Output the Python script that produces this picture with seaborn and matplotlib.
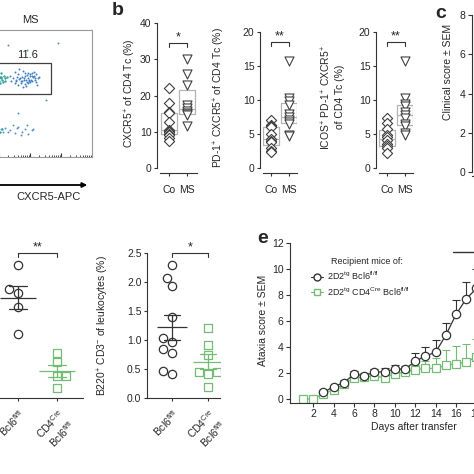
import numpy as np
import pandas as pd
import seaborn as sns
import matplotlib.pyplot as plt
from matplotlib.patches import Rectangle
from matplotlib.lines import Line2D

sns.set_style("ticks")
plt.rcParams['font.family'] = ['Liberation Sans', 'DejaVu Sans']
plt.rcParams['mathtext.fontset'] = 'custom'
plt.rcParams['mathtext.rm'] = 'Liberation Sans'
plt.rcParams['mathtext.it'] = 'Liberation Sans:italic'
plt.rcParams['mathtext.bf'] = 'Liberation Sans:bold'

# ---- datos ----
# panel a (eventos de citometria, x en log10)
flow_hi_x = [2.45, 2.55, 2.62, 2.70, 2.75, 2.80, 2.85, 2.90, 2.95, 3.00, 3.05, 3.10, 3.15, 3.20,
             3.25, 2.50, 2.60, 2.68, 2.78, 2.88, 2.98, 3.08, 3.18, 2.58, 2.72, 2.83, 2.93, 3.03,
             3.13, 2.40, 2.65, 2.92, 3.22, 3.30, 2.35, 2.76, 2.86, 3.00, 2.52, 3.12,
             2.66, 2.81, 2.96, 3.06, 2.74, 2.89, 3.17, 2.56, 2.99, 2.84]
flow_hi_y = [0.62, 0.60, 0.65, 0.58, 0.63, 0.61, 0.66, 0.59, 0.62, 0.64, 0.60, 0.63, 0.61, 0.65,
             0.62, 0.67, 0.57, 0.62, 0.68, 0.56, 0.60, 0.66, 0.59, 0.63, 0.60, 0.64, 0.58, 0.61,
             0.64, 0.60, 0.69, 0.66, 0.57, 0.63, 0.64, 0.55, 0.61, 0.59, 0.58, 0.67,
             0.615, 0.625, 0.605, 0.635, 0.595, 0.645, 0.625, 0.605, 0.655, 0.575]
flow_teal_x = [1.95, 2.00, 2.05, 2.10, 2.15, 2.02, 1.98, 2.08, 2.12, 2.20, 1.92, 2.04, 2.18, 2.25, 2.06,
               1.96, 2.03, 2.09]
flow_teal_y = [0.62, 0.60, 0.63, 0.61, 0.64, 0.58, 0.65, 0.66, 0.59, 0.62, 0.61, 0.63, 0.60, 0.63, 0.62,
               0.21, 0.20, 0.22]
flow_lo_x = [1.95, 2.00, 2.05, 2.12, 2.20, 2.35, 2.50, 2.62, 2.75, 2.85, 2.95, 3.05, 2.45, 2.70,
             2.30, 2.90, 3.10, 2.58, 2.30, 2.90, 3.50, 1.95, 2.60, 3.90]
flow_lo_y = [0.21, 0.19, 0.22, 0.20, 0.23, 0.21, 0.19, 0.24, 0.20, 0.22, 0.18, 0.21, 0.25, 0.17,
             0.20, 0.25, 0.22, 0.23, 0.88, 0.84, 0.45, 0.40, 0.35, 0.90]
gate_pct = "11.6"

# panel b
grupos_b = ["Co", "MS"]
b1_co = [22.2, 17.8, 15.5, 15.2, 12.8, 10.5, 10.2, 9.8, 9.5, 9.2, 8.2, 7.5]
b1_ms = [30.0, 26.0, 23.0, 17.5, 16.5, 15.8, 15.2, 14.8, 14.5, 11.5]
b2_co = [7.0, 6.3, 6.2, 6.0, 5.0, 4.3, 4.0, 3.8, 3.0, 2.5, 2.3]
b2_ms = [15.8, 10.3, 9.8, 9.3, 8.0, 7.5, 7.0, 6.7, 6.5, 4.9, 4.7]
b3_co = [7.3, 6.6, 5.8, 4.9, 4.5, 4.1, 3.6, 3.2, 2.9, 2.2]
b3_ms = [15.8, 10.3, 9.4, 9.1, 8.2, 7.8, 7.3, 6.4, 6.2, 5.1, 4.8]

# panel d
grupos_d = ["Bcl6$^{\\mathrm{fl/fl}}$", "CD4$^{\\mathrm{Cre}}$\nBcl6$^{\\mathrm{fl/fl}}$"]
d1_wt = [2.29, 1.88, 1.81, 1.57, 1.10]
d1_ko = [0.78, 0.62, 0.38, 0.38, 0.17]
d2_wt = [2.29, 2.07, 1.93, 1.40, 1.03, 0.97, 0.84, 0.78, 0.41, 0.47]
d2_ko = [1.21, 0.91, 0.74, 0.45, 0.42, 0.45, 0.19]

# panel e
dias = list(range(1, 19))
ataxia_wt = [np.nan, np.nan, 0.5, 0.95, 1.25, 1.9, 1.8, 2.05, 2.1, 2.3, 2.3, 2.9, 3.3, 3.6, 4.9, 6.5, 7.7, 8.5]
sem_wt = [0, 0, 0.1, 0.1, 0.1, 0.25, 0.2, 0.25, 0.3, 0.3, 0.25, 0.6, 0.7, 0.9, 0.95, 1.1, 1.3, 1.5]
ataxia_ko = [0, 0, 0.4, 0.7, 1.15, 1.6, 1.7, 1.75, 1.65, 1.95, 2.05, 2.25, 2.35, 2.35, 2.6, 2.7, 2.85, 3.25]
sem_ko = [0, 0, 0.1, 0.15, 0.1, 0.2, 0.2, 0.2, 0.2, 0.3, 0.3, 0.4, 0.6, 0.8, 1.2, 1.4, 1.4, 1.4]

VERDE = "#74bb74"
OSC = "0.2"
TICK = 7.5
LAB = 7.5
W = 474

fig = plt.figure(figsize=(4.74, 4.74), dpi=100)


def px_axes(left, right, top, bottom):
    return fig.add_axes([left / W, 1 - bottom / W, (right - left) / W, (bottom - top) / W])


def cat_xlim(left, right, c0, c1):
    paso = c1 - c0
    return ((left - c0) / paso, (right - c0) / paso)


def fig_text(x, y, s, **kw):
    fig.text(x / W, 1 - y / W, s, **kw)


def ylabel_at(ax, texto, x, y):
    ax.set_ylabel(texto, fontsize=LAB)
    ax.yaxis.set_label_coords(x / W, 1 - y / W, transform=fig.transFigure)


def estilo(ax, izq=3, abajo=5):
    sns.despine(ax=ax)
    ax.spines['left'].set_position(('outward', izq * 0.72))
    ax.spines['bottom'].set_position(('outward', abajo * 0.72))
    for s in ("left", "bottom"):
        ax.spines[s].set_color(OSC)
        ax.spines[s].set_linewidth(0.8)
    ax.tick_params(length=2.5, width=0.8, labelsize=TICK, pad=1.5, color=OSC)


def corchete(ax, y, caida, texto, x0=0, x1=1):
    ax.plot([x0, x0, x1, x1], [y - caida, y, y, y - caida], color=OSC, lw=0.8, clip_on=False)
    ax.text((x0 + x1) / 2, y, texto, ha="center", va="bottom", fontsize=9, clip_on=False)


# ---- panel a ----
ax = px_axes(-60, 92, 30, 157)
sns.scatterplot(x=flow_lo_x, y=flow_lo_y, s=2, color="#5b8fc8", linewidth=0, ax=ax)
sns.scatterplot(x=flow_hi_x, y=flow_hi_y, s=2, color="#3d7fc2", linewidth=0, ax=ax)
sns.scatterplot(x=flow_teal_x, y=flow_teal_y, s=3, color="#3aa39b", linewidth=0, ax=ax)
ax.add_patch(Rectangle((1.84, 0.496), 3.68 - 1.84, 0.74 - 0.496, fill=False, ec="0.25", lw=0.9))
ax.set_xlim(5 - 152 / 31, 5)
ax.set_ylim(0, 1)
mayores = [1, 2, 3, 4]
menores = [d + np.log10(k) for d in range(0, 5) for k in range(2, 10)]
ax.set_xticks(mayores)
ax.set_xticks([m for m in menores if m < 5], minor=True)
ax.set_yticks([])
ax.tick_params(axis="x", which="major", direction="in", length=3, width=0.8, labelbottom=False, color=OSC)
ax.tick_params(axis="x", which="minor", direction="in", length=1.5, width=0.6, color=OSC)
for s in ax.spines.values():
    s.set_color("0.6")
    s.set_linewidth(0.8)
fig_text(30, 20, "MS", ha="center", va="center", fontsize=8)
fig_text(28, 55, gate_pct, ha="center", va="center", fontsize=8)
ax.annotate("", xy=(90, W - 185), xytext=(-5, W - 185), xycoords="figure pixels",
            textcoords="figure pixels", arrowprops=dict(arrowstyle="-|>", lw=1.3, color="k",
                                                        mutation_scale=7))
fig_text(49, 197, "CXCR5-APC", ha="center", va="center", fontsize=8)

# ---- panel b ----
paneles_b = [
    (b1_co, b1_ms, (160, 197, 23, 168), (169, 187), 40, [0, 10, 20, 30, 40], 34.5, 1.2, "*",
     "CXCR5$^{+}$ of CD4 Tc (%)", (138, 93)),
    (b2_co, b2_ms, (263, 297, 32, 168), (271, 289), 20, [0, 5, 10, 15, 20], 18.5, 0.6, "**",
     "PD-1$^{+}$ CXCR5$^{+}$ of CD4 Tc (%)", (227, 98)),
    (b3_co, b3_ms, (379, 413, 32, 168), (387, 405), 20, [0, 5, 10, 15, 20], 18.5, 0.6, "**",
     "ICOS$^{+}$ PD-1$^{+}$ CXCR5$^{+}$\nof CD4 Tc (%)", (345, 97)),
]
for co, ms, caja, cats, ymax, yt, yb, caida, sig, etiqueta, pos_lab in paneles_b:
    ax = px_axes(*caja)
    df = pd.DataFrame({"g": ["Co"] * len(co) + ["MS"] * len(ms), "v": co + ms})
    sns.boxplot(data=df, x="g", y="v", order=grupos_b, width=0.85, whis=0, showfliers=False,
                showcaps=False, fill=False, color="0.7", linewidth=0.9, ax=ax)
    sns.stripplot(x=["Co"] * len(co), y=co, order=grupos_b, jitter=False, marker="D", size=5.2,
                  color="white", edgecolor="0.25", linewidth=0.8, ax=ax, zorder=3)
    sns.stripplot(x=["MS"] * len(ms), y=ms, order=grupos_b, jitter=False, marker="v", size=6.5,
                  color="white", edgecolor="0.25", linewidth=0.8, ax=ax, zorder=3)
    ax.set_xlim(*cat_xlim(caja[0], caja[1], *cats))
    ax.set_ylim(0, ymax)
    ax.set_yticks(yt)
    estilo(ax)
    ax.tick_params(axis="x", pad=6)
    ax.spines["left"].set_bounds(0, ymax)
    ax.set_xlabel("")
    ylabel_at(ax, etiqueta, *pos_lab)
    corchete(ax, yb, caida, sig)

fig_text(112, 15, "b", fontsize=14, fontweight="bold", va="baseline")

# ---- panel c ----
ax = px_axes(472, 620, 15, 172)
ax.set_ylim(0, 8)
ax.set_yticks([0, 2, 4, 6, 8])
ax.set_xticks([])
estilo(ax, izq=0, abajo=4)
ax.tick_params(length=3, pad=2)
ylabel_at(ax, "Clinical score ± SEM", 453, 72)
fig_text(435, 18, "c", fontsize=14, fontweight="bold", va="baseline")

# ---- panel d ----
paneles_d = [
    (d1_wt, d1_ko, (-35, 83, 253, 398), (18, 57), "**", 26, None),
    (d2_wt, d2_ko, (147, 220, 253, 398), (172, 208), "*", 21.6,
     ("B220$^{+}$ CD3$^{-}$ of leukocytes (%)", (111, 326))),
]
for wt, ko, caja, cats, sig, ancho, lab in paneles_d:
    ax = px_axes(*caja)
    for vals, g, mk, col, tam in ((wt, grupos_d[0], "o", OSC, 6), (ko, grupos_d[1], "s", VERDE, 5.5)):
        sns.swarmplot(x=[g] * len(vals), y=vals, order=grupos_d, marker=mk, size=tam,
                      color="white", edgecolor=col, linewidth=0.9, ax=ax, zorder=3)
        sns.pointplot(x=[g] * len(vals), y=vals, order=grupos_d, errorbar="se", color=col,
                      marker="_", markersize=ancho, markeredgewidth=0.9, linestyle="none",
                      capsize=0.45, err_kws={"linewidth": 0.9}, ax=ax, zorder=4)
    ax.set_xlim(*cat_xlim(caja[0], caja[1], *cats))
    ax.set_ylim(0, 2.5)
    ax.set_yticks([0, 0.5, 1.0, 1.5, 2.0, 2.5])
    ax.set_yticklabels(["0.0", "0.5", "1.0", "1.5", "2.0", "2.5"])
    estilo(ax, izq=0, abajo=0)
    ax.set_xticks([0, 1])
    ax.set_xticklabels(grupos_d, rotation=45, ha="right", rotation_mode="anchor", fontsize=TICK)
    ax.tick_params(axis="x", pad=4)
    ax.set_xlabel("")
    if lab:
        ylabel_at(ax, lab[0], *lab[1])
    else:
        # eje y del primer panel queda fuera del recorte
        ax.tick_params(axis="y", labelleft=False)
    corchete(ax, 2.5, 0.07, sig)

# ---- panel e ----
ax = px_axes(290, 560, 243, 403)
ax.errorbar(dias, ataxia_ko, yerr=[np.zeros(len(sem_ko)), sem_ko], fmt="none", ecolor=VERDE,
            elinewidth=0.8, capsize=3, capthick=0.8, zorder=1)
ax.errorbar(dias, ataxia_wt, yerr=[np.zeros(len(sem_wt)), sem_wt], fmt="none", ecolor=OSC,
            elinewidth=0.8, capsize=3, capthick=0.8, zorder=1)
sns.lineplot(x=dias, y=ataxia_ko, color=VERDE, marker="s", markersize=5.5, markerfacecolor="white",
             markeredgecolor=VERDE, markeredgewidth=0.9, linewidth=0.9, ax=ax, zorder=2)
sns.lineplot(x=dias, y=ataxia_wt, color=OSC, marker="o", markersize=6, markerfacecolor="white",
             markeredgecolor=OSC, markeredgewidth=0.9, linewidth=0.9, ax=ax, zorder=3)
ax.plot([15.7, 40], [11.3, 11.3], color=OSC, lw=1)
ax.set_xlim(1 + (290 - 303) / 10.2, 1 + (560 - 303) / 10.2)
ax.set_ylim(-0.31, 12)
ax.set_yticks(range(0, 13, 2))
ax.set_xticks(range(2, 27, 2))
estilo(ax, izq=0, abajo=0)
ax.tick_params(length=3)
ax.set_xlabel("Days after transfer", fontsize=LAB)
ax.xaxis.set_label_coords(414 / W, 1 - 422 / W, transform=fig.transFigure)
ylabel_at(ax, "Ataxia score ± SEM", 268, 320)
manijas = [Line2D([], [], color=OSC, marker="o", mfc="white", mec=OSC, ms=5, lw=0.8),
           Line2D([], [], color=VERDE, marker="s", mfc="white", mec=VERDE, ms=4.5, lw=0.8)]
ax.legend(manijas, ["2D2$^{\\mathrm{tg}}$ Bcl6$^{\\mathrm{fl/fl}}$",
                    "2D2$^{\\mathrm{tg}}$ CD4$^{\\mathrm{Cre}}$ Bcl6$^{\\mathrm{fl/fl}}$"],
          loc="upper left", bbox_to_anchor=(311 / W, 1 - 270 / W), bbox_transform=fig.transFigure,
          frameon=False, fontsize=6.5, handlelength=1.3, handletextpad=0.5, borderpad=0,
          borderaxespad=0, labelspacing=0.3)
fig_text(331, 262, "Recipient mice of:", fontsize=6.5, va="center")
fig_text(257, 243, "e", fontsize=14, fontweight="bold", va="baseline")

fig.savefig("out.png", dpi=100)
